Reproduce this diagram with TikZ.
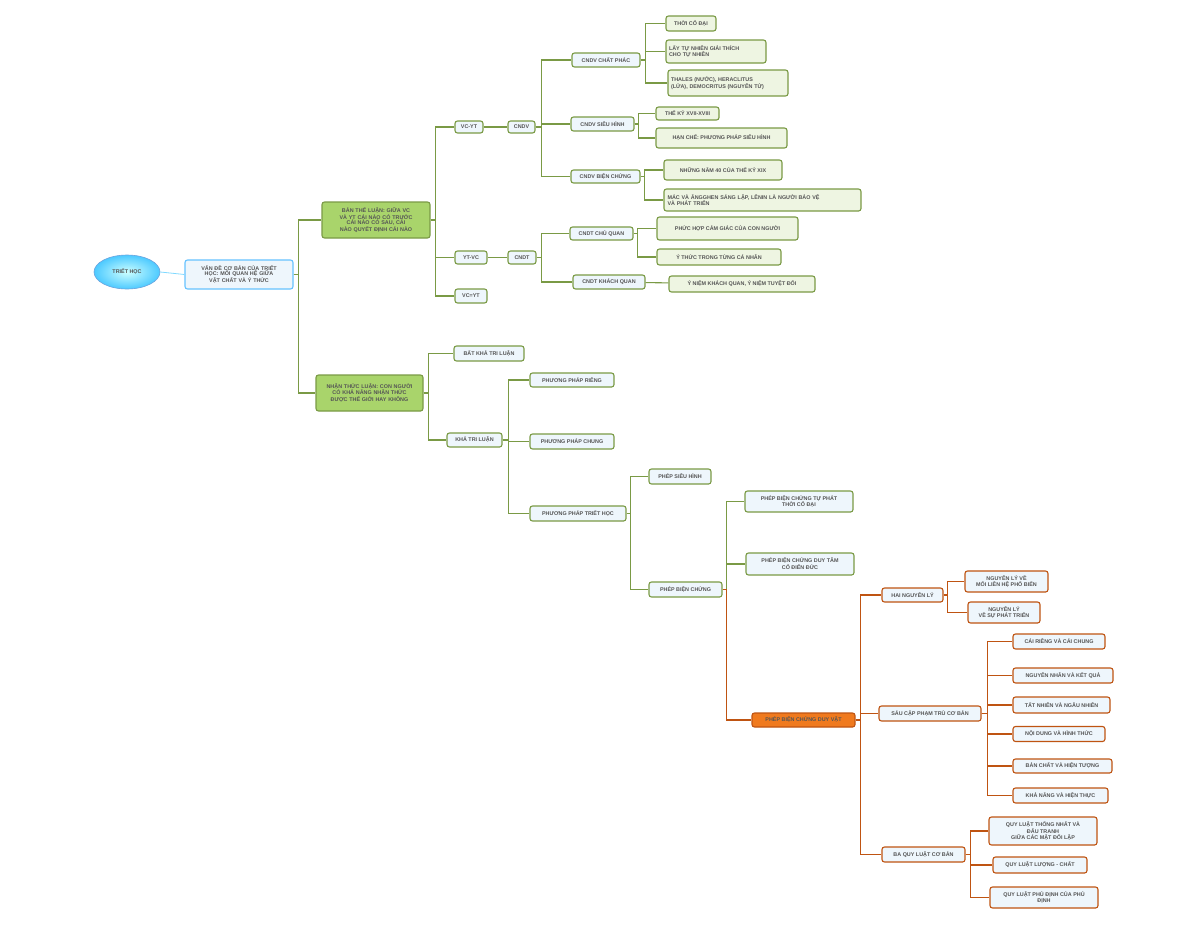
\documentclass[tikz,border=0pt]{standalone}
\usepackage{fontspec}
\setmainfont{Liberation Sans}
\usetikzlibrary{shapes.geometric}
\definecolor{gline}{HTML}{7A9A45}
\definecolor{gfill}{HTML}{A9D46B}
\definecolor{lgreen}{HTML}{EEF5E2}
\definecolor{lblue}{HTML}{EEF6FC}
\definecolor{oline}{HTML}{BF5412}
\definecolor{ofill}{HTML}{F07A1E}
\definecolor{txt}{HTML}{555555}
\tikzset{
 bx/.style={draw=gline, line width=1.1pt, rounded corners=2.5pt, fill=lblue, align=center, inner sep=0.5pt, text=txt, font=\fontsize{5.4}{5.6}\selectfont\bfseries},
 gb/.style={bx, fill=lgreen},
 ob/.style={bx, draw=oline},
 gl/.style={draw=gline, line width=1.1pt},
 ol/.style={draw=oline, line width=1.1pt},
}
\begin{document}
\begin{tikzpicture}[x=1pt,y=-1pt]
\useasboundingbox (0,0) rectangle (1200,927);
% root
\node[ellipse, minimum width=66, minimum height=34, draw=cyan!60!blue!60, line width=0.6pt, inner color=cyan!20, outer color=cyan!70!blue!70, text=txt, font=\fontsize{5.4}{5.6}\selectfont\bfseries] (root) at (127,272) {TRIẾT HỌC};
\node[bx, draw=blue!40!cyan!60, minimum width=108, minimum height=29, text width=96] (vd) at (239,274.5) {VẤN ĐỀ CƠ BẢN CỦA TRIẾT HỌC: MỐI QUAN HỆ GIỮA VẬT CHẤT VÀ Ý THỨC};
\draw[draw=blue!30!cyan!50, line width=0.8pt] (root.east) -- (vd.west);
\node[bx, fill=gfill, minimum width=108, minimum height=36, text width=92] (bt) at (376,220) {BẢN THỂ LUẬN: GIỮA VC VÀ YT CÁI NÀO CÓ TRƯỚC CÁI NÀO CÓ SAU, CÁI NÀO QUYẾT ĐỊNH CÁI NÀO};
\node[bx, fill=gfill, minimum width=107, minimum height=36, text width=94] (nt) at (369.5,393) {NHẬN THỨC LUẬN: CON NGƯỜI CÓ KHẢ NĂNG NHẬN THỨC ĐƯỢC THẾ GIỚI HAY KHÔNG};
\draw[gl] (vd.east) -- ++(5,0) |- (bt.west);
\draw[gl] (vd.east) -- ++(5,0) |- (nt.west);
% ontology
\node[bx, minimum width=28, minimum height=12] (vcyt) at (469,127) {VC-YT};
\node[bx, minimum width=32, minimum height=13] (ytvc) at (471,257.5) {YT-VC};
\node[bx, minimum width=32, minimum height=14] (vceq) at (471,296) {VC=YT};
\foreach \c in {vcyt,ytvc,vceq} \draw[gl] (bt.east) -- ++(5,0) |- (\c.west);
\node[bx, minimum width=27, minimum height=12] (cndv) at (521.5,127) {CNDV};
\node[bx, minimum width=28, minimum height=13] (cndt) at (522,257.5) {CNDT};
\draw[gl] (vcyt) -- (cndv); \draw[gl] (ytvc) -- (cndt);
\node[bx, minimum width=68, minimum height=14] (cp) at (606,60) {CNDV CHẤT PHÁC};
\node[bx, minimum width=63, minimum height=14] (sh) at (602.5,124) {CNDV SIÊU HÌNH};
\node[bx, minimum width=69, minimum height=13] (bc) at (605.5,176.5) {CNDV BIỆN CHỨNG};
\foreach \c in {cp,sh,bc} \draw[gl] (cndv.east) -- ++(6,0) |- (\c.west);
\node[gb, minimum width=50, minimum height=15] (a1) at (691,23.5) {THỜI CỔ ĐẠI};
\node[gb, minimum width=100, minimum height=23, text width=94, align=left] (a2) at (716,51.5) {LẤY TỰ NHIÊN GIẢI THÍCH\\CHO TỰ NHIÊN};
\node[gb, minimum width=120, minimum height=26, text width=114, align=left] (a3) at (728,83) {THALES (NƯỚC), HERACLITUS\\(LỬA), DEMOCRITUS (NGUYÊN TỬ)};
\foreach \c in {a1,a2,a3} \draw[gl] (cp.east) -- ++(5,0) |- (\c.west);
\node[gb, minimum width=63, minimum height=13] (b1) at (687.5,113.5) {THẾ KỶ XVII-XVIII};
\node[gb, minimum width=131, minimum height=20] (b2) at (721.5,138) {HẠN CHẾ: PHƯƠNG PHÁP SIÊU HÌNH};
\foreach \c in {b1,b2} \draw[gl] (sh.east) -- ++(4,0) |- (\c.west);
\node[gb, minimum width=118, minimum height=20] (c1) at (723,170) {NHỮNG NĂM 40 CỦA THẾ KỶ XIX};
\node[gb, minimum width=197, minimum height=22, text width=190, align=left] (c2) at (762.5,200) {MÁC VÀ ĂNGGHEN SÁNG LẬP, LÊNIN LÀ NGƯỜI BẢO VỆ\\VÀ PHÁT TRIỂN};
\foreach \c in {c1,c2} \draw[gl] (bc.east) -- ++(4,0) |- (\c.west);
\node[bx, minimum width=63, minimum height=13] (cq) at (601.5,233.5) {CNDT CHỦ QUAN};
\node[bx, minimum width=72, minimum height=14] (kq) at (609,282) {CNDT KHÁCH QUAN};
\foreach \c in {cq,kq} \draw[gl] (cndt.east) -- ++(5,0) |- (\c.west);
\node[gb, minimum width=141, minimum height=23] (d1) at (727.5,228.5) {PHỨC HỢP CẢM GIÁC CỦA CON NGƯỜI};
\node[gb, minimum width=124, minimum height=16] (d2) at (719,257) {Ý THỨC TRONG TỪNG CÁ NHÂN};
\foreach \c in {d1,d2} \draw[gl] (cq.east) -- ++(4,0) |- (\c.west);
\node[gb, minimum width=146, minimum height=16] (e1) at (742,284) {Ý NIỆM KHÁCH QUAN, Ý NIỆM TUYỆT ĐỐI};
\draw[gl] (kq) -- (e1);
% epistemology
\node[bx, minimum width=70, minimum height=15] (bk) at (489,353.5) {BẤT KHẢ TRI LUẬN};
\node[bx, minimum width=55, minimum height=14] (kt) at (474.5,440) {KHẢ TRI LUẬN};
\foreach \c in {bk,kt} \draw[gl] (nt.east) -- ++(5,0) |- (\c.west);
\node[bx, minimum width=84, minimum height=14] (pr) at (572,380) {PHƯƠNG PHÁP RIÊNG};
\node[bx, minimum width=84, minimum height=15] (pc) at (572,441.5) {PHƯƠNG PHÁP CHUNG};
\node[bx, minimum width=96, minimum height=15] (pt) at (578,513.5) {PHƯƠNG PHÁP TRIẾT HỌC};
\foreach \c in {pr,pc,pt} \draw[gl] (kt.east) -- ++(6,0) |- (\c.west);
\node[bx, minimum width=62, minimum height=15] (psh) at (680,476.5) {PHÉP SIÊU HÌNH};
\node[bx, minimum width=73, minimum height=15] (pbc) at (685.5,589.5) {PHÉP BIỆN CHỨNG};
\foreach \c in {psh,pbc} \draw[gl] (pt.east) -- ++(4,0) |- (\c.west);
\node[bx, minimum width=108, minimum height=21] (tp) at (799,501.5) {PHÉP BIỆN CHỨNG TỰ PHÁT\\THỜI CỔ ĐẠI};
\node[bx, minimum width=108, minimum height=22] (dt) at (800,564) {PHÉP BIỆN CHỨNG DUY TÂM\\CỔ ĐIỂN ĐỨC};
\foreach \c in {tp,dt} \draw[gl] (pbc.east) -- ++(4,0) |- (\c.west);
\node[ob, fill=ofill, minimum width=103, minimum height=14, text=txt] (dv) at (803.5,720) {PHÉP BIỆN CHỨNG DUY VẬT};
\draw[ol] (pbc.east) -- ++(4,0) |- (dv.west);
\node[ob, minimum width=61, minimum height=14] (hn) at (912.5,595) {HAI NGUYÊN LÝ};
\node[ob, minimum width=102, minimum height=15] (sc) at (930,713.5) {SÁU CẶP PHẠM TRÙ CƠ BẢN};
\node[ob, minimum width=83, minimum height=15] (bq) at (923.5,854.5) {BA QUY LUẬT CƠ BẢN};
\foreach \c in {hn,sc,bq} \draw[ol] (dv.east) -- ++(5,0) |- (\c.west);
\node[ob, minimum width=83, minimum height=21] (n1) at (1006.5,581.5) {NGUYÊN LÝ VỀ\\MỐI LIÊN HỆ PHỔ BIẾN};
\node[ob, minimum width=72, minimum height=21] (n2) at (1004,612.5) {NGUYÊN LÝ\\VỀ SỰ PHÁT TRIỂN};
\foreach \c in {n1,n2} \draw[ol] (hn.east) -- ++(4,0) |- (\c.west);
\node[ob, minimum width=92, minimum height=15] (s1) at (1059,641.5) {CÁI RIÊNG VÀ CÁI CHUNG};
\node[ob, minimum width=100, minimum height=15] (s2) at (1063,675.5) {NGUYÊN NHÂN VÀ KẾT QUẢ};
\node[ob, minimum width=97, minimum height=16] (s3) at (1061.5,705) {TẤT NHIÊN VÀ NGẪU NHIÊN};
\node[ob, minimum width=92, minimum height=15] (s4) at (1059,734) {NỘI DUNG VÀ HÌNH THỨC};
\node[ob, minimum width=99, minimum height=14] (s5) at (1062.5,766) {BẢN CHẤT VÀ HIỆN TƯỢNG};
\node[ob, minimum width=95, minimum height=15] (s6) at (1060.5,795.5) {KHẢ NĂNG VÀ HIỆN THỰC};
\foreach \c in {s1,s2,s3,s4,s5,s6} \draw[ol] (sc.east) -- ++(6,0) |- (\c.west);
\node[ob, minimum width=108, minimum height=28] (q1) at (1043,831) {QUY LUẬT THỐNG NHẤT VÀ\\ĐẤU TRANH\\GIỮA CÁC MẶT ĐỐI LẬP};
\node[ob, minimum width=94, minimum height=16] (q2) at (1040,865) {QUY LUẬT LƯỢNG - CHẤT};
\node[ob, minimum width=108, minimum height=21] (q3) at (1044,897.5) {QUY LUẬT PHỦ ĐỊNH CỦA PHỦ\\ĐỊNH};
\foreach \c in {q1,q2,q3} \draw[ol] (bq.east) -- ++(5,0) |- (\c.west);
\end{tikzpicture}
\end{document}
